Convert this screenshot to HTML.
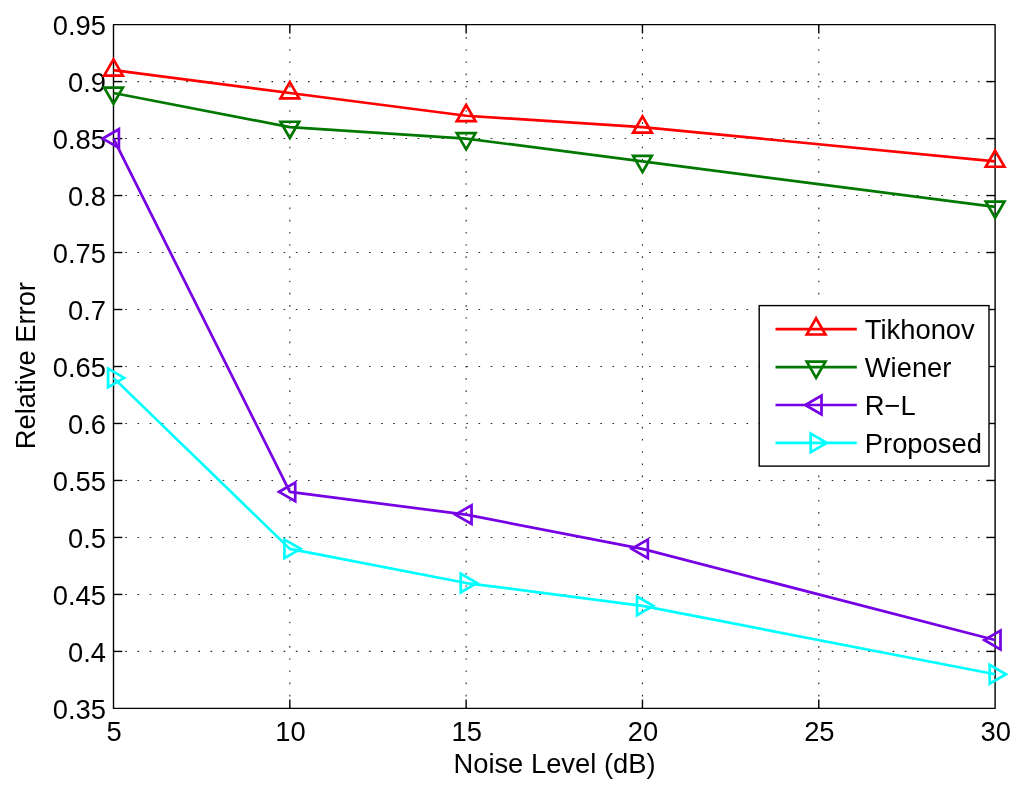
<!DOCTYPE html>
<html><head><meta charset="utf-8"><title>Relative Error vs Noise Level</title>
<style>
html,body{margin:0;padding:0;background:#fff;}
svg{display:block;}
text{font-family:"Liberation Sans",Arial,Helvetica,sans-serif;font-size:27.35px;fill:#000;}
</style></head><body>
<svg width="1024" height="794" viewBox="0 0 1024 794">
<rect x="0" y="0" width="1024" height="794" fill="#fff"/>
<g stroke="#000" stroke-width="1.1" fill="none" stroke-opacity="0.85">
<line x1="289.82" y1="24.60" x2="289.82" y2="708.40" stroke-dasharray="1.6 10.580" stroke-dashoffset="-0.300"/>
<line x1="466.14" y1="24.60" x2="466.14" y2="708.40" stroke-dasharray="1.6 10.580" stroke-dashoffset="-0.300"/>
<line x1="642.46" y1="24.60" x2="642.46" y2="708.40" stroke-dasharray="1.6 10.580" stroke-dashoffset="-0.300"/>
<line x1="818.78" y1="24.60" x2="818.78" y2="708.40" stroke-dasharray="1.6 10.580" stroke-dashoffset="-0.300"/>
<line x1="113.50" y1="651.42" x2="995.10" y2="651.42" stroke-dasharray="1.6 10.580" stroke-dashoffset="0.380"/>
<line x1="113.50" y1="594.43" x2="995.10" y2="594.43" stroke-dasharray="1.6 10.580" stroke-dashoffset="0.380"/>
<line x1="113.50" y1="537.45" x2="995.10" y2="537.45" stroke-dasharray="1.6 10.580" stroke-dashoffset="0.380"/>
<line x1="113.50" y1="480.47" x2="995.10" y2="480.47" stroke-dasharray="1.6 10.580" stroke-dashoffset="0.380"/>
<line x1="113.50" y1="423.48" x2="995.10" y2="423.48" stroke-dasharray="1.6 10.580" stroke-dashoffset="0.380"/>
<line x1="113.50" y1="366.50" x2="995.10" y2="366.50" stroke-dasharray="1.6 10.580" stroke-dashoffset="0.380"/>
<line x1="113.50" y1="309.52" x2="995.10" y2="309.52" stroke-dasharray="1.6 10.580" stroke-dashoffset="0.380"/>
<line x1="113.50" y1="252.53" x2="995.10" y2="252.53" stroke-dasharray="1.6 10.580" stroke-dashoffset="0.380"/>
<line x1="113.50" y1="195.55" x2="995.10" y2="195.55" stroke-dasharray="1.6 10.580" stroke-dashoffset="0.380"/>
<line x1="113.50" y1="138.57" x2="995.10" y2="138.57" stroke-dasharray="1.6 10.580" stroke-dashoffset="0.380"/>
<line x1="113.50" y1="81.58" x2="995.10" y2="81.58" stroke-dasharray="1.6 10.580" stroke-dashoffset="0.380"/>
</g>
<g stroke="#000" stroke-width="1.4" fill="none" stroke-linejoin="round">
<rect x="113.5" y="24.6" width="881.60" height="683.80"/>
<line x1="289.82" y1="708.4" x2="289.82" y2="699.6"/>
<line x1="289.82" y1="24.6" x2="289.82" y2="33.400000000000006"/>
<line x1="466.14" y1="708.4" x2="466.14" y2="699.6"/>
<line x1="466.14" y1="24.6" x2="466.14" y2="33.400000000000006"/>
<line x1="642.46" y1="708.4" x2="642.46" y2="699.6"/>
<line x1="642.46" y1="24.6" x2="642.46" y2="33.400000000000006"/>
<line x1="818.78" y1="708.4" x2="818.78" y2="699.6"/>
<line x1="818.78" y1="24.6" x2="818.78" y2="33.400000000000006"/>
<line x1="113.5" y1="651.42" x2="122.3" y2="651.42"/>
<line x1="995.1" y1="651.42" x2="986.3000000000001" y2="651.42"/>
<line x1="113.5" y1="594.43" x2="122.3" y2="594.43"/>
<line x1="995.1" y1="594.43" x2="986.3000000000001" y2="594.43"/>
<line x1="113.5" y1="537.45" x2="122.3" y2="537.45"/>
<line x1="995.1" y1="537.45" x2="986.3000000000001" y2="537.45"/>
<line x1="113.5" y1="480.47" x2="122.3" y2="480.47"/>
<line x1="995.1" y1="480.47" x2="986.3000000000001" y2="480.47"/>
<line x1="113.5" y1="423.48" x2="122.3" y2="423.48"/>
<line x1="995.1" y1="423.48" x2="986.3000000000001" y2="423.48"/>
<line x1="113.5" y1="366.50" x2="122.3" y2="366.50"/>
<line x1="995.1" y1="366.50" x2="986.3000000000001" y2="366.50"/>
<line x1="113.5" y1="309.52" x2="122.3" y2="309.52"/>
<line x1="995.1" y1="309.52" x2="986.3000000000001" y2="309.52"/>
<line x1="113.5" y1="252.53" x2="122.3" y2="252.53"/>
<line x1="995.1" y1="252.53" x2="986.3000000000001" y2="252.53"/>
<line x1="113.5" y1="195.55" x2="122.3" y2="195.55"/>
<line x1="995.1" y1="195.55" x2="986.3000000000001" y2="195.55"/>
<line x1="113.5" y1="138.57" x2="122.3" y2="138.57"/>
<line x1="995.1" y1="138.57" x2="986.3000000000001" y2="138.57"/>
<line x1="113.5" y1="81.58" x2="122.3" y2="81.58"/>
<line x1="995.1" y1="81.58" x2="986.3000000000001" y2="81.58"/>
</g>
<g text-anchor="end">
<text x="106.0" y="718.80">0.35</text>
<text x="106.0" y="661.82">0.4</text>
<text x="106.0" y="604.83">0.45</text>
<text x="106.0" y="547.85">0.5</text>
<text x="106.0" y="490.87">0.55</text>
<text x="106.0" y="433.88">0.6</text>
<text x="106.0" y="376.90">0.65</text>
<text x="106.0" y="319.92">0.7</text>
<text x="106.0" y="262.93">0.75</text>
<text x="106.0" y="205.95">0.8</text>
<text x="106.0" y="148.97">0.85</text>
<text x="106.0" y="91.98">0.9</text>
<text x="106.0" y="35.00">0.95</text>
</g>
<g text-anchor="middle">
<text x="114.10" y="741.0">5</text>
<text x="290.42" y="741.0">10</text>
<text x="466.74" y="741.0">15</text>
<text x="643.06" y="741.0">20</text>
<text x="819.38" y="741.0">25</text>
<text x="995.70" y="741.0">30</text>
<text x="554.5" y="772.9">Noise Level (dB)</text>
<text transform="translate(35.0,365.6) rotate(-90)">Relative Error</text>
</g>
<polyline points="113.50,70.19 289.82,92.98 466.14,115.77 642.46,127.17 995.10,161.36" fill="none" stroke="#ff0000" stroke-width="2.7" stroke-linejoin="round"/>
<polygon points="113.50,59.39 122.85,75.59 104.15,75.59" fill="none" stroke="#ff0000" stroke-width="2.7" stroke-linejoin="miter"/>
<polygon points="289.82,82.18 299.17,98.38 280.47,98.38" fill="none" stroke="#ff0000" stroke-width="2.7" stroke-linejoin="miter"/>
<polygon points="466.14,104.97 475.49,121.17 456.79,121.17" fill="none" stroke="#ff0000" stroke-width="2.7" stroke-linejoin="miter"/>
<polygon points="642.46,116.37 651.81,132.57 633.11,132.57" fill="none" stroke="#ff0000" stroke-width="2.7" stroke-linejoin="miter"/>
<polygon points="995.10,150.56 1004.45,166.76 985.75,166.76" fill="none" stroke="#ff0000" stroke-width="2.7" stroke-linejoin="miter"/>
<polyline points="113.50,92.98 289.82,127.17 466.14,138.57 642.46,161.36 995.10,206.95" fill="none" stroke="#007800" stroke-width="2.7" stroke-linejoin="round"/>
<polygon points="113.50,103.78 122.85,87.58 104.15,87.58" fill="none" stroke="#007800" stroke-width="2.7" stroke-linejoin="miter"/>
<polygon points="289.82,137.97 299.17,121.77 280.47,121.77" fill="none" stroke="#007800" stroke-width="2.7" stroke-linejoin="miter"/>
<polygon points="466.14,149.37 475.49,133.17 456.79,133.17" fill="none" stroke="#007800" stroke-width="2.7" stroke-linejoin="miter"/>
<polygon points="642.46,172.16 651.81,155.96 633.11,155.96" fill="none" stroke="#007800" stroke-width="2.7" stroke-linejoin="miter"/>
<polygon points="995.10,217.75 1004.45,201.55 985.75,201.55" fill="none" stroke="#007800" stroke-width="2.7" stroke-linejoin="miter"/>
<polyline points="113.50,138.57 289.82,491.86 466.14,514.66 642.46,548.85 995.10,640.02" fill="none" stroke="#7600e4" stroke-width="2.7" stroke-linejoin="round"/>
<polygon points="102.70,138.57 118.90,147.92 118.90,129.21" fill="none" stroke="#7600e4" stroke-width="2.7" stroke-linejoin="miter"/>
<polygon points="279.02,491.86 295.22,501.22 295.22,482.51" fill="none" stroke="#7600e4" stroke-width="2.7" stroke-linejoin="miter"/>
<polygon points="455.34,514.66 471.54,524.01 471.54,505.30" fill="none" stroke="#7600e4" stroke-width="2.7" stroke-linejoin="miter"/>
<polygon points="631.66,548.85 647.86,558.20 647.86,539.49" fill="none" stroke="#7600e4" stroke-width="2.7" stroke-linejoin="miter"/>
<polygon points="984.30,640.02 1000.50,649.37 1000.50,630.67" fill="none" stroke="#7600e4" stroke-width="2.7" stroke-linejoin="miter"/>
<polyline points="113.50,377.90 289.82,548.85 466.14,583.04 642.46,605.83 995.10,674.21" fill="none" stroke="#00ffff" stroke-width="2.7" stroke-linejoin="round"/>
<polygon points="124.30,377.90 108.10,387.25 108.10,368.54" fill="none" stroke="#00ffff" stroke-width="2.7" stroke-linejoin="miter"/>
<polygon points="300.62,548.85 284.42,558.20 284.42,539.49" fill="none" stroke="#00ffff" stroke-width="2.7" stroke-linejoin="miter"/>
<polygon points="476.94,583.04 460.74,592.39 460.74,573.68" fill="none" stroke="#00ffff" stroke-width="2.7" stroke-linejoin="miter"/>
<polygon points="653.26,605.83 637.06,615.18 637.06,596.48" fill="none" stroke="#00ffff" stroke-width="2.7" stroke-linejoin="miter"/>
<polygon points="1005.90,674.21 989.70,683.56 989.70,664.86" fill="none" stroke="#00ffff" stroke-width="2.7" stroke-linejoin="miter"/>
<rect x="759.2" y="305.6" width="229.80" height="160.50" fill="#fff" stroke="#000" stroke-width="1.4"/>
<line x1="775.5" y1="329.1" x2="856.8" y2="329.1" stroke="#ff0000" stroke-width="2.7"/>
<polygon points="816.10,318.30 825.45,334.50 806.75,334.50" fill="none" stroke="#ff0000" stroke-width="2.7" stroke-linejoin="miter"/>
<text x="864.8" y="338.80">Tikhonov</text>
<line x1="775.5" y1="367.05" x2="856.8" y2="367.05" stroke="#007800" stroke-width="2.7"/>
<polygon points="816.10,377.85 825.45,361.65 806.75,361.65" fill="none" stroke="#007800" stroke-width="2.7" stroke-linejoin="miter"/>
<text x="864.8" y="376.75">Wiener</text>
<line x1="775.5" y1="405.0" x2="856.8" y2="405.0" stroke="#7600e4" stroke-width="2.7"/>
<polygon points="805.30,405.00 821.50,414.35 821.50,395.65" fill="none" stroke="#7600e4" stroke-width="2.7" stroke-linejoin="miter"/>
<text x="864.8" y="414.70">R−L</text>
<line x1="775.5" y1="442.9" x2="856.8" y2="442.9" stroke="#00ffff" stroke-width="2.7"/>
<polygon points="826.90,442.90 810.70,452.25 810.70,433.55" fill="none" stroke="#00ffff" stroke-width="2.7" stroke-linejoin="miter"/>
<text x="864.8" y="452.60">Proposed</text>
</svg></body></html>
